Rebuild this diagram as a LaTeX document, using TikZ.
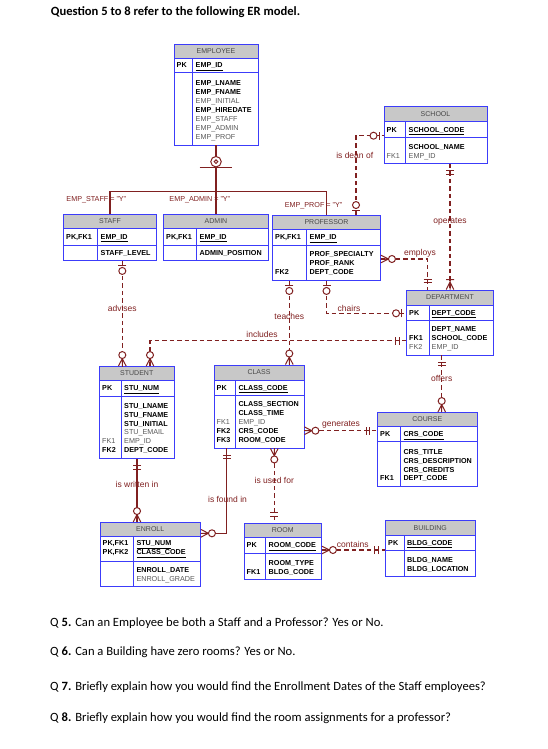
\documentclass[tikz,border=0pt]{standalone}
\usepackage{fontspec}
\setmainfont{Liberation Sans}
\newfontfamily\qfont{Carlito}
\usetikzlibrary{fit}

\definecolor{erred}{RGB}{128,32,32}
\definecolor{erblue}{RGB}{60,60,250}
\definecolor{hdrgray}{RGB}{200,200,200}

\tikzset{
  entity/.style={draw=erblue, line width=0.9pt, inner sep=0pt},
  entline/.style={draw=erblue, line width=0.8pt},
  enttitle/.style={font=\fontsize{7}{8}\selectfont, text=black!72, inner sep=0pt},
  attr/.style={font=\fontsize{7.2}{8}\selectfont\bfseries, text=black, anchor=base west, inner sep=0pt},
  attb/.style={attr},
  attn/.style={attr, font=\fontsize{7.2}{8}\selectfont, text=black!65},
  rel/.style={draw=erred, line width=1.1pt},
  reld/.style={rel, dash pattern=on 4.5pt off 3pt},
  mk/.style={draw=erred, line width=1pt, solid},
  rellabel/.style={font=\fontsize{8.5}{10}\selectfont, text=erred, inner sep=0pt},
  condlabel/.style={font=\fontsize{7.2}{9}\selectfont, text=erred, inner sep=0pt},
  question/.style={font=\qfont\fontsize{12.6}{14}\selectfont, anchor=base west, inner sep=0pt},
  pics/onlyone/.style={code={\draw[mk] (7,-4) -- (7,4) (10.5,-4) -- (10.5,4);}},
  pics/zeroone/.style={code={\draw[mk] (4.5,-4) -- (4.5,4); \draw[mk, fill=white] (10,0) circle (3.5);}},
  pics/zeromany/.style={code={\draw[mk] (0,-3.8) -- (7.5,0) -- (0,3.8) (0,0) -- (7.5,0); \draw[mk, fill=white] (11,0) circle (3.5);}},
  pics/onemany/.style={code={\draw[mk] (0,-3.8) -- (7.5,0) -- (0,3.8) (0,0) -- (10,0) (10,-4) -- (10,4);}},
}

% entity box: name, x1, y1, x2, y2, column, header bottom, key row bottom, title
\newcommand\erbox[9]{%
  \fill[hdrgray] (#2,#3) rectangle (#4,#7);
  \draw[entline] (#2,#7) -- (#4,#7) (#2,#8) -- (#4,#8) (#6,#7) -- (#6,#5);
  \node[entity, fit={(#2,#3) (#4,#5)}] (#1) {};
  \node[enttitle] (#1-t) at ({(#2+#4)/2}, {(#3+#7)/2}) {#9};
}
% rows of text: prefix, x, first row, row step, list of style/text
\newcommand\erlines[5]{%
  \foreach \sty/\txt [count=\nr] in {#5}
    \node[att\sty] (#1\nr) at (#2, {#3+(\nr-1)*#4+2.5}) {\txt};
}

\begin{document}
\begin{tikzpicture}[x=1pt, y=-1pt]
  \fill[white] (0,0) rectangle (548,749);
  \path[use as bounding box] (0,0) rectangle (548,749);

  \node[anchor=base west, inner sep=0pt, font=\qfont\bfseries\fontsize{12.6}{14}\selectfont] (title) at (50.7,15.8)
    {Question 5 to 8 refer to the following ER model.};

  % entities
  \erbox{emp}{174}{44.5}{258}{145}{192.5}{58.5}{72.5}{EMPLOYEE}
  \erlines{emp-k}{176.5}{65.5}{9}{b/PK}
  \erlines{emp-p}{195.5}{65.5}{9}{b/\underline{EMP\_ID}}
  \erlines{emp-a}{195.5}{82.7}{9.1}{b/EMP\_LNAME, b/EMP\_FNAME, n/EMP\_INITIAL, b/EMP\_HIREDATE, n/EMP\_STAFF, n/EMP\_ADMIN, n/EMP\_PROF}

  \erbox{school}{384}{106}{487}{163.5}{405.5}{121.5}{137.5}{SCHOOL}
  \erlines{school-k}{386.5}{129.5}{9}{b/PK}
  \erlines{school-p}{408.5}{129.5}{9}{b/\underline{SCHOOL\_CODE}}
  \erlines{school-a}{408.5}{147.3}{8.6}{b/SCHOOL\_NAME, n/EMP\_ID}
  \erlines{school-f}{386.5}{155.9}{8.6}{n/FK1}

  \erbox{staff}{63.5}{214.5}{156.5}{260.5}{97.5}{228}{245}{STAFF}
  \erlines{staff-k}{66}{236.5}{9}{b/{PK,FK1}}
  \erlines{staff-p}{100.5}{236.5}{9}{b/\underline{EMP\_ID}}
  \erlines{staff-a}{100.5}{253}{9}{b/STAFF\_LEVEL}

  \erbox{admin}{163.5}{214.5}{268.5}{260.5}{196.5}{228}{245}{ADMIN}
  \erlines{admin-k}{166}{236.5}{9}{b/{PK,FK1}}
  \erlines{admin-p}{199.5}{236.5}{9}{b/\underline{EMP\_ID}}
  \erlines{admin-a}{199.5}{253}{9}{b/ADMIN\_POSITION}

  \erbox{prof}{272.5}{215.5}{380.5}{280.5}{306.5}{229}{245}{PROFESSOR}
  \erlines{prof-k}{275}{237.3}{9}{b/{PK,FK1}}
  \erlines{prof-p}{309.5}{237.3}{9}{b/\underline{EMP\_ID}}
  \erlines{prof-a}{309.5}{254}{8.9}{b/PROF\_SPECIALTY, b/PROF\_RANK, b/DEPT\_CODE}
  \erlines{prof-f}{275}{271.8}{8.9}{b/FK2}

  \erbox{dept}{406.5}{290}{493.5}{355}{429}{305}{320.5}{DEPARTMENT}
  \erlines{dept-k}{409}{312.5}{9}{b/PK}
  \erlines{dept-p}{431.5}{312.5}{9}{b/\underline{DEPT\_CODE}}
  \erlines{dept-a}{431.5}{329.3}{8.9}{b/DEPT\_NAME, b/SCHOOL\_CODE, n/EMP\_ID}
  \erlines{dept-f}{409}{338.2}{8.9}{b/FK1, n/FK2}

  \erbox{stud}{99.5}{366.5}{174}{458.5}{121.5}{380.5}{396}{STUDENT}
  \erlines{stud-k}{102}{388.3}{9}{b/PK}
  \erlines{stud-p}{124}{388.3}{9}{b/\underline{STU\_NUM}}
  \erlines{stud-a}{124}{406}{8.8}{b/STU\_LNAME, b/STU\_FNAME, b/STU\_INITIAL, n/STU\_EMAIL, n/EMP\_ID, b/DEPT\_CODE}
  \erlines{stud-f}{102}{441.2}{8.8}{n/FK1, b/FK2}

  \erbox{class}{214}{365}{304}{448}{235}{380}{395}{CLASS}
  \erlines{class-k}{216.5}{387.5}{9}{b/PK}
  \erlines{class-p}{238.3}{387.5}{9}{b/\underline{CLASS\_CODE}}
  \erlines{class-a}{238.3}{404.3}{8.9}{b/CLASS\_SECTION, b/CLASS\_TIME, n/EMP\_ID, b/CRS\_CODE, b/ROOM\_CODE}
  \erlines{class-f}{216.5}{422.1}{8.9}{n/FK1, b/FK2, b/FK3}

  \erbox{course}{377}{412.5}{477.5}{486.5}{400.5}{426.5}{441.5}{COURSE}
  \erlines{course-k}{380}{434.3}{9}{b/PK}
  \erlines{course-p}{403.3}{434.3}{9}{b/\underline{CRS\_CODE}}
  \erlines{course-a}{403.3}{451.7}{8.9}{b/CRS\_TITLE, b/CRS\_DESCRIPTION, b/CRS\_CREDITS, b/DEPT\_CODE}
  \erlines{course-f}{380}{478.4}{8.9}{b/FK1}

  \erbox{enroll}{100}{522.5}{200.5}{586.5}{133.5}{536}{561.5}{ENROLL}
  \erlines{enroll-k}{102.5}{543.3}{9}{b/{PK,FK1}, b/{PK,FK2}}
  \erlines{enroll-p}{136.3}{543.3}{9}{b/\underline{STU\_NUM}, b/\underline{CLASS\_CODE}}
  \erlines{enroll-a}{136.3}{570}{9}{b/ENROLL\_DATE, n/ENROLL\_GRADE}

  \erbox{room}{244}{523.5}{321.5}{579.5}{265}{537.5}{553.5}{ROOM}
  \erlines{room-k}{246.5}{545.3}{9}{b/PK}
  \erlines{room-p}{268.5}{545.3}{9}{b/\underline{ROOM\_CODE}}
  \erlines{room-a}{268.5}{562.5}{9}{b/ROOM\_TYPE, b/BLDG\_CODE}
  \erlines{room-f}{246.5}{571.5}{9}{b/FK1}

  \erbox{bldg}{385.5}{520.5}{475}{576.5}{404}{535}{550}{BUILDING}
  \erlines{bldg-k}{388}{542.5}{9}{b/PK}
  \erlines{bldg-p}{407}{542.5}{9}{b/\underline{BLDG\_CODE}}
  \erlines{bldg-a}{407}{559.5}{9}{b/BLDG\_NAME, b/BLDG\_LOCATION}

  % subtypes of EMPLOYEE
  \node[circle, mk, fill=white, minimum size=10.5pt, inner sep=0pt] (isa) at (216,161.7) {};
  \draw[rel] (emp.south) -- (isa.north);
  \draw[rel] (isa.south) -- (admin.north);
  \draw[mk] (isa.center) circle (1.8);
  \draw[rel] ([xshift=-16.5pt]isa.south) -- ([xshift=16pt]isa.south);
  \coordinate (isa-bus) at (216,191.5);
  \draw[rel] (staff.north) |- (isa-bus) -| (prof.north);
  \node[condlabel] (cond-staff) at (96.3,200) {EMP\_STAFF = "Y"};
  \node[condlabel] (cond-admin) at (199.8,200) {EMP\_ADMIN = "Y"};
  \node[condlabel] (cond-prof) at (313.5,205.7) {EMP\_PROF = "Y"};

  % relationships
  \coordinate (dean) at (356,135.7);
  \draw[reld] (prof.north -| dean) -- (dean) -- (dean -| school.west);
  \pic[rotate=90] at (prof.north -| dean) {zeroone};
  \pic[rotate=180] at (dean -| school.west) {zeroone};

  \draw[reld] (school.south -| dept.north) -- (dept.north);
  \pic[rotate=-90] at (school.south -| dept.north) {onlyone};
  \pic[rotate=90] at (dept.north) {onemany};

  \coordinate (empl) at (427.7,259);
  \draw[reld] (prof.east |- empl) -- (empl) -- (empl |- dept.north);
  \pic at (prof.east |- empl) {zeromany};
  \pic[rotate=90] at (empl |- dept.north) {onlyone};

  \coordinate (chair) at (326.5,313.3);
  \draw[reld] (prof.south) |- (dept.west |- chair);
  \pic[rotate=-90] at (prof.south) {zeroone};
  \pic[rotate=180] at (dept.west |- chair) {zeroone};

  \coordinate (teach) at (289.3,316.7);
  \draw[reld] (prof.south -| teach) -- (class.north -| teach);
  \pic[rotate=-90] at (prof.south -| teach) {zeroone};
  \pic[rotate=90] at (class.north -| teach) {zeromany};

  \coordinate (incl) at (150,340.7);
  \draw[reld] (stud.north -| incl) |- (dept.west |- incl);
  \pic[rotate=90] at (stud.north -| incl) {zeromany};
  \pic[rotate=180] at (dept.west |- incl) {onlyone};

  \coordinate (adv) at (122.3,308.3);
  \draw[reld] (staff.south -| adv) -- (stud.north -| adv);
  \pic[rotate=-90] at (staff.south -| adv) {zeroone};
  \pic[rotate=90] at (stud.north -| adv) {zeromany};

  \coordinate (off) at (441.7,378.3);
  \draw[reld] (dept.south -| off) -- (course.north -| off);
  \pic[rotate=-90] at (dept.south -| off) {onlyone};
  \pic[rotate=90] at (course.north -| off) {zeromany};

  \coordinate (gen) at (341,430.7);
  \draw[reld] (class.east |- gen) -- (course.west |- gen);
  \pic at (class.east |- gen) {zeromany};
  \pic[rotate=180] at (course.west |- gen) {onlyone};

  \coordinate (writ) at (137,484.3);
  \draw[rel] (stud.south -| writ) -- (enroll.north -| writ);
  \pic[rotate=-90] at (stud.south -| writ) {onlyone};
  \pic[rotate=90] at (enroll.north -| writ) {zeromany};

  \coordinate (found) at (226.7,533.3);
  \draw[rel] (enroll.east |- found) -| (class.south -| found);
  \pic at (enroll.east |- found) {zeromany};
  \pic[rotate=-90] at (class.south -| found) {onlyone};

  \coordinate (used) at (274.3,480);
  \draw[reld] (class.south -| used) -- (room.north -| used);
  \pic[rotate=-90] at (class.south -| used) {zeromany};
  \pic[rotate=90] at (room.north -| used) {onlyone};

  \coordinate (cont) at (352.8,550);
  \draw[reld] (room.east |- cont) -- (bldg.west |- cont);
  \pic at (room.east |- cont) {zeromany};
  \pic[rotate=180] at (bldg.west |- cont) {onlyone};

  % relationship names
  \node[rellabel] (dean-l) at (354.7,155.7) {is dean of};
  \node[rellabel] (oper-l) at (450,221.7) {operates};
  \node[rellabel] (empl-l) at (420,253.3) {employs};
  \node[rellabel] (chair-l) at (349,308) {chairs};
  \node[rellabel] (teach-l) at (teach) {teaches};
  \node[rellabel] (incl-l) at (262,334.5) {includes};
  \node[rellabel] (adv-l) at (adv) {advises};
  \node[rellabel] (off-l) at (off) {offers};
  \node[rellabel] (gen-l) at (341,424.5) {generates};
  \node[rellabel] (writ-l) at (writ) {is written in};
  \node[rellabel] (found-l) at (227.5,499) {is found in};
  \node[rellabel] (used-l) at (used) {is used for};
  \node[rellabel] (cont-l) at (352.8,544) {contains};

  % questions
  \foreach \num/\qtext/\ybase in {5/Can an Employee be both a Staff and a Professor? Yes or No./626,
      6/Can a Building have zero rooms? Yes or No./655.5,
      7/Briefly explain how you would find the Enrollment Dates of the Staff employees?/690.5,
      8/Briefly explain how you would find the room assignments for a professor?/721.5}
  {
    \node[question] (q\num) at (50,\ybase) {Q \textbf{\num.} \qtext};
  }
\end{tikzpicture}
\end{document}
